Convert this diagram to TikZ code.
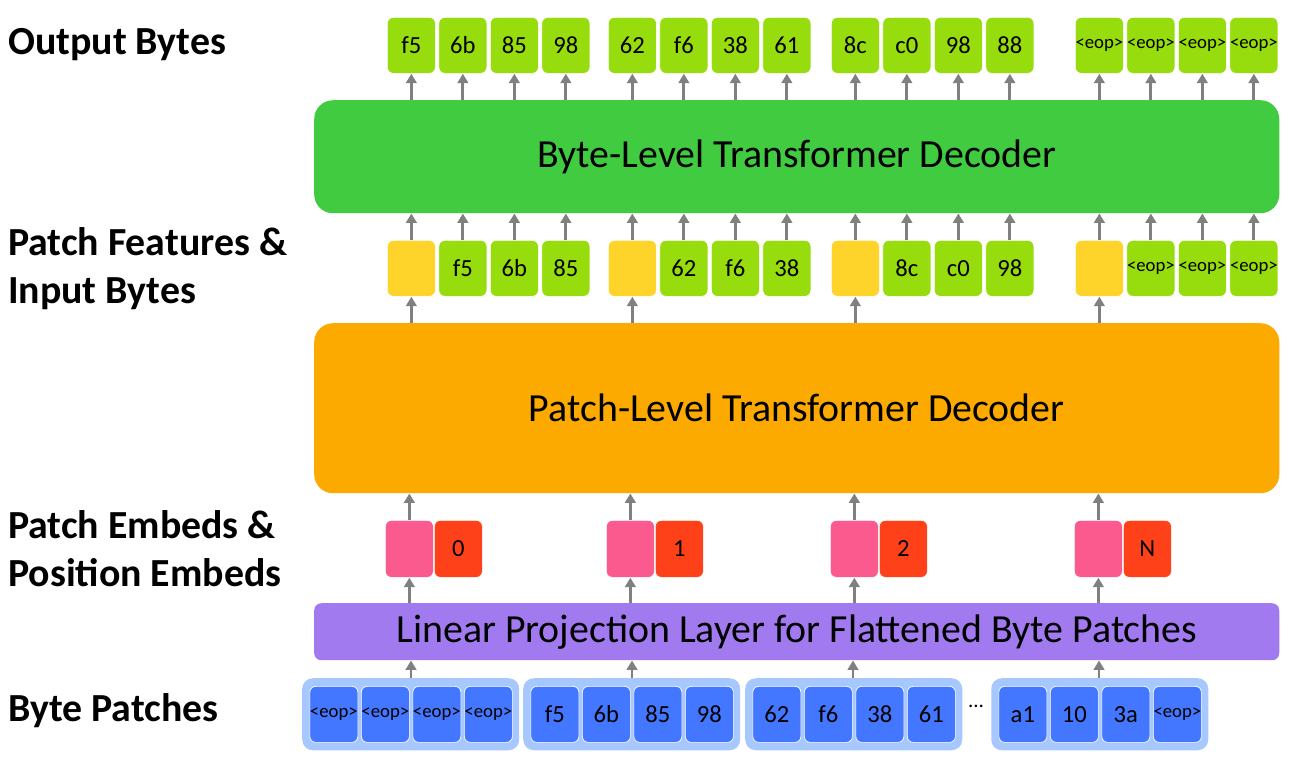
\documentclass[tikz,border=0pt]{standalone}
\usepackage{fontspec}
\setmainfont{Carlito}
\usetikzlibrary{arrows.meta}
\definecolor{gbyte}{HTML}{97DC0C}
\definecolor{gdec}{HTML}{40CB40}
\definecolor{odec}{HTML}{FCA900}
\definecolor{yfeat}{HTML}{FFD42A}
\definecolor{pemb}{HTML}{FA5A8E}
\definecolor{rpos}{HTML}{FF4119}
\definecolor{plin}{HTML}{A27AF0}
\definecolor{bbyte}{HTML}{4477FF}
\definecolor{bpatch}{HTML}{A6C8FF}
\definecolor{arr}{HTML}{808080}
\begin{document}
\begin{tikzpicture}[x=0.03cm,y=-0.03cm,
  cell/.style={draw=white, line width=0.6pt, rounded corners=5, minimum width=48*0.03cm, minimum height=56*0.03cm, anchor=north west, inner sep=0pt, font=\fontsize{21}{24}\selectfont},
  eop/.style={font=\fontsize{16}{18}\selectfont},
  layer/.style={rounded corners=16, minimum width=965*0.03cm, anchor=north west, inner sep=0pt},
  lbl/.style={anchor=west, align=left, font=\bfseries\fontsize{34}{41}\selectfont},
  up/.style={draw=arr, line width=2.4pt, -{Triangle[length=8pt,width=9pt]}}]
\useasboundingbox (0,0) rectangle (1298,776);
% labels
\node[lbl] (l1) at (4,45) {Output Bytes};
\node[lbl] (l2) at (4,269) {Patch Features \&\\Input Bytes};
\node[lbl] (l3) at (4,549) {Patch Embeds \&\\Position Embeds};
\node[lbl] (l4) at (4,711) {Byte Patches};
% layers
\node[layer, fill=gdec, minimum height=113*0.03cm, font=\fontsize{34}{38}\selectfont] (bdec) at (314,100) {Byte-Level Transformer Decoder};
\node[layer, fill=odec, minimum height=170*0.03cm, font=\fontsize{34}{38}\selectfont] (pdec) at (314,323) {Patch-Level Transformer Decoder};
\node[layer, fill=plin, rounded corners=6, minimum height=57*0.03cm, font=\fontsize{34}{38}\selectfont] (lin) at (314,603) {Linear Projection Layer for Flattened Byte Patches};
% output bytes
\foreach \g/\x/\a/\b/\c/\d in {1/387/f5/6b/85/98, 2/608/62/f6/38/61, 3/831/8c/c0/98/88} {
  \node[cell, fill=gbyte] (o\g a) at (\x,17) {\a};
  \node[cell, fill=gbyte] (o\g b) at (\x+51.5,17) {\b};
  \node[cell, fill=gbyte] (o\g c) at (\x+103,17) {\c};
  \node[cell, fill=gbyte] (o\g d) at (\x+154.5,17) {\d};
}
\foreach \s/\dx in {a/0, b/51.5, c/103, d/154.5}
  \node[cell, fill=gbyte, eop] (o4\s) at (1075+\dx,17) {<eop>};
% input bytes
\foreach \g/\x/\b/\c/\d in {1/387/f5/6b/85, 2/608/62/f6/38, 3/831/8c/c0/98} {
  \node[cell, fill=yfeat] (i\g a) at (\x,240) {};
  \node[cell, fill=gbyte] (i\g b) at (\x+51.5,240) {\b};
  \node[cell, fill=gbyte] (i\g c) at (\x+103,240) {\c};
  \node[cell, fill=gbyte] (i\g d) at (\x+154.5,240) {\d};
}
\node[cell, fill=yfeat] (i4a) at (1075,240) {};
\foreach \s/\dx in {b/51.5, c/103, d/154.5}
  \node[cell, fill=gbyte, eop] (i4\s) at (1075+\dx,240) {<eop>};
% arrows around byte decoder
\foreach \g in {1,2,3,4}
  \foreach \s in {a,b,c,d} {
    \draw[up] (bdec.north -| o\g\s.south) -- (o\g\s.south);
    \draw[up] (i\g\s.north) -- (bdec.south -| i\g\s.north);
  }
% patch embeds and positions
\foreach \g/\x/\n in {1/385/0, 2/606/1, 3/830/2, 4/1074/N} {
  \node[cell, fill=pemb, minimum height=57*0.03cm] (e\g) at (\x,520) {};
  \node[cell, fill=rpos, minimum height=57*0.03cm] (q\g) at (\x+49,520) {\n};
  \draw[up] (i\g a.south |- pdec.north) -- (i\g a.south);
  \draw[up] (e\g.north) -- (pdec.south -| e\g.north);
  \draw[up] (lin.north -| e\g.south) -- (e\g.south);
}
% byte patches
\foreach \g/\x/\a/\b/\c/\d in {2/523/f5/6b/85/98, 3/745/62/f6/38/61} {
  \node[fill=bpatch, rounded corners=9, minimum width=217*0.03cm, minimum height=72*0.03cm, anchor=north west, inner sep=0pt] (bp\g) at (\x,678) {};
  \node[cell, fill=bbyte] at (\x+7.5,686) {\a};
  \node[cell, fill=bbyte] at (\x+59,686) {\b};
  \node[cell, fill=bbyte] at (\x+110.5,686) {\c};
  \node[cell, fill=bbyte] at (\x+162,686) {\d};
}
\node[fill=bpatch, rounded corners=9, minimum width=217*0.03cm, minimum height=72*0.03cm, anchor=north west, inner sep=0pt] (bp1) at (302,678) {};
\foreach \dx in {0,51.5,103,154.5}
  \node[cell, fill=bbyte, eop] at (309.5+\dx,686) {<eop>};
\node[fill=bpatch, rounded corners=9, minimum width=217*0.03cm, minimum height=72*0.03cm, anchor=north west, inner sep=0pt] (bp4) at (991,678) {};
\node[cell, fill=bbyte] at (998.5,686) {a1};
\node[cell, fill=bbyte] at (1050,686) {10};
\node[cell, fill=bbyte] at (1101.5,686) {3a};
\node[cell, fill=bbyte, eop] at (1153,686) {<eop>};
\node[font=\fontsize{18}{20}\selectfont] (dots) at (976,706) {...};
\foreach \g/\x in {1/411, 2/632, 3/853, 4/1099}
  \draw[up] (bp\g.north -| \x,0) -- (lin.south -| \x,0);
\end{tikzpicture}
\end{document}
